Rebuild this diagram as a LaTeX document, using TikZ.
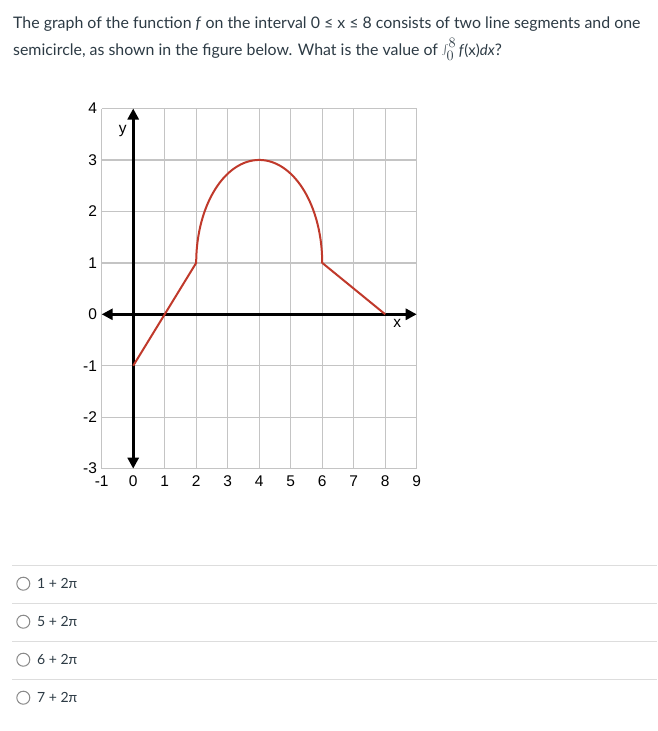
\documentclass[tikz,border=0pt]{standalone}
\usepackage{fontspec}
\setmainfont{Lato}
\newfontfamily\arialf{Liberation Sans}
\usetikzlibrary{arrows.meta}
\definecolor{txt}{HTML}{2D3B45}
\definecolor{gridgray}{HTML}{C4C4C4}
\definecolor{curvered}{HTML}{C0392B}
\definecolor{sepgray}{HTML}{DDDDDD}
\definecolor{radiogray}{HTML}{8A8A8A}
\begin{document}
\begin{tikzpicture}[x=1pt,y=-1pt,
  qtext/.style={anchor=base west, inner sep=0pt, text=txt, font=\fontsize{15.9}{18}\selectfont},
  choicetext/.style={anchor=west, inner sep=0pt, text=txt, font=\fontsize{14}{16}\selectfont},
  radio/.style={draw=radiogray, circle, minimum size=13pt, inner sep=0pt, line width=1pt},
  sepline/.style={draw=sepgray, line width=1pt},
  gridline/.style={draw=gridgray, line width=1.4pt},
  axisline/.style={draw=black, line width=2.8pt, {Triangle[length=11pt,width=11pt]}-{Triangle[length=11pt,width=11pt]}},
  curveline/.style={draw=curvered, line width=2pt, line join=round},
  ticklab/.style={inner sep=0pt, font=\arialf\fontsize{15.5}{17}\selectfont},
  axlab/.style={inner sep=0pt, font=\arialf\fontsize{15.5}{17}\selectfont}]
\useasboundingbox (0,0) rectangle (657,731);
\fill[white] (0,0) rectangle (657,731);
% question
\node[qtext] (q1) at (13,28) {The graph of the function \textit{f} on the interval 0 ≤ x ≤ 8 consists of two line segments and one};
\node[qtext] (q2) at (13,55) {semicircle, as shown in the figure below. What is the value of {\fontsize{20}{22}\selectfont$\int_0^8$}\,{\fontsize{15}{16}\selectfont\textit{f}(x)\textit{dx}}?};
% graph
\begin{scope}[shift={(133.2,314.3)}, x={(31.5pt,0pt)}, y={(0pt,51.45pt)}]
  \foreach \u in {-1,...,9} { \draw[gridline] (\u,-3) -- (\u,4); }
  \foreach \v in {-3,...,4} { \draw[gridline] (-1,\v) -- (9,\v); }
  \coordinate (xl) at (-1,0);
  \coordinate (xr) at (9,0);
  \coordinate (yb) at (0,-3);
  \coordinate (yt) at (0,4);
  \draw[axisline] (xl) -- (xr);
  \draw[axisline] (yb) -- (yt);
  \coordinate (p0) at (0,-1);
  \coordinate (p1) at (2,1);
  \coordinate (p2) at (6,1);
  \coordinate (p3) at (8,0);
  \draw[curveline] (p0) -- (p1) -- plot[domain=180:0, samples=90] ({4+2*cos(\x)},{1+2*sin(\x)}) -- (p3);
  \foreach \v in {-3,...,4} {
    \node[ticklab, anchor=east] (ylab\v) at ([xshift=-4.5pt]-1,\v) {\v};
  }
  \foreach \u in {-1,...,9} {
    \node[ticklab] (xlab\u) at ([yshift=-12.5pt]\u,-3) {\u};
  }
  \node[axlab] (ylabel) at (-0.33,3.57) {y};
  \node[axlab] (xlabel) at (8.38,-0.17) {x};
\end{scope}
% choices
\foreach \i/\yy in {1/565.3, 2/603.3, 3/641.3, 4/679.3} {
  \draw[sepline] (12,\yy) -- (657,\yy);
}
\foreach \i/\yy/\t in {1/583.7/1, 2/621.7/5, 3/659.7/6, 4/697.7/7} {
  \node[radio] (r\i) at (23.3,\yy) {};
  \node[choicetext] (c\i) at (37,\yy) {\t\ + 2π};
}
\end{tikzpicture}
\end{document}
